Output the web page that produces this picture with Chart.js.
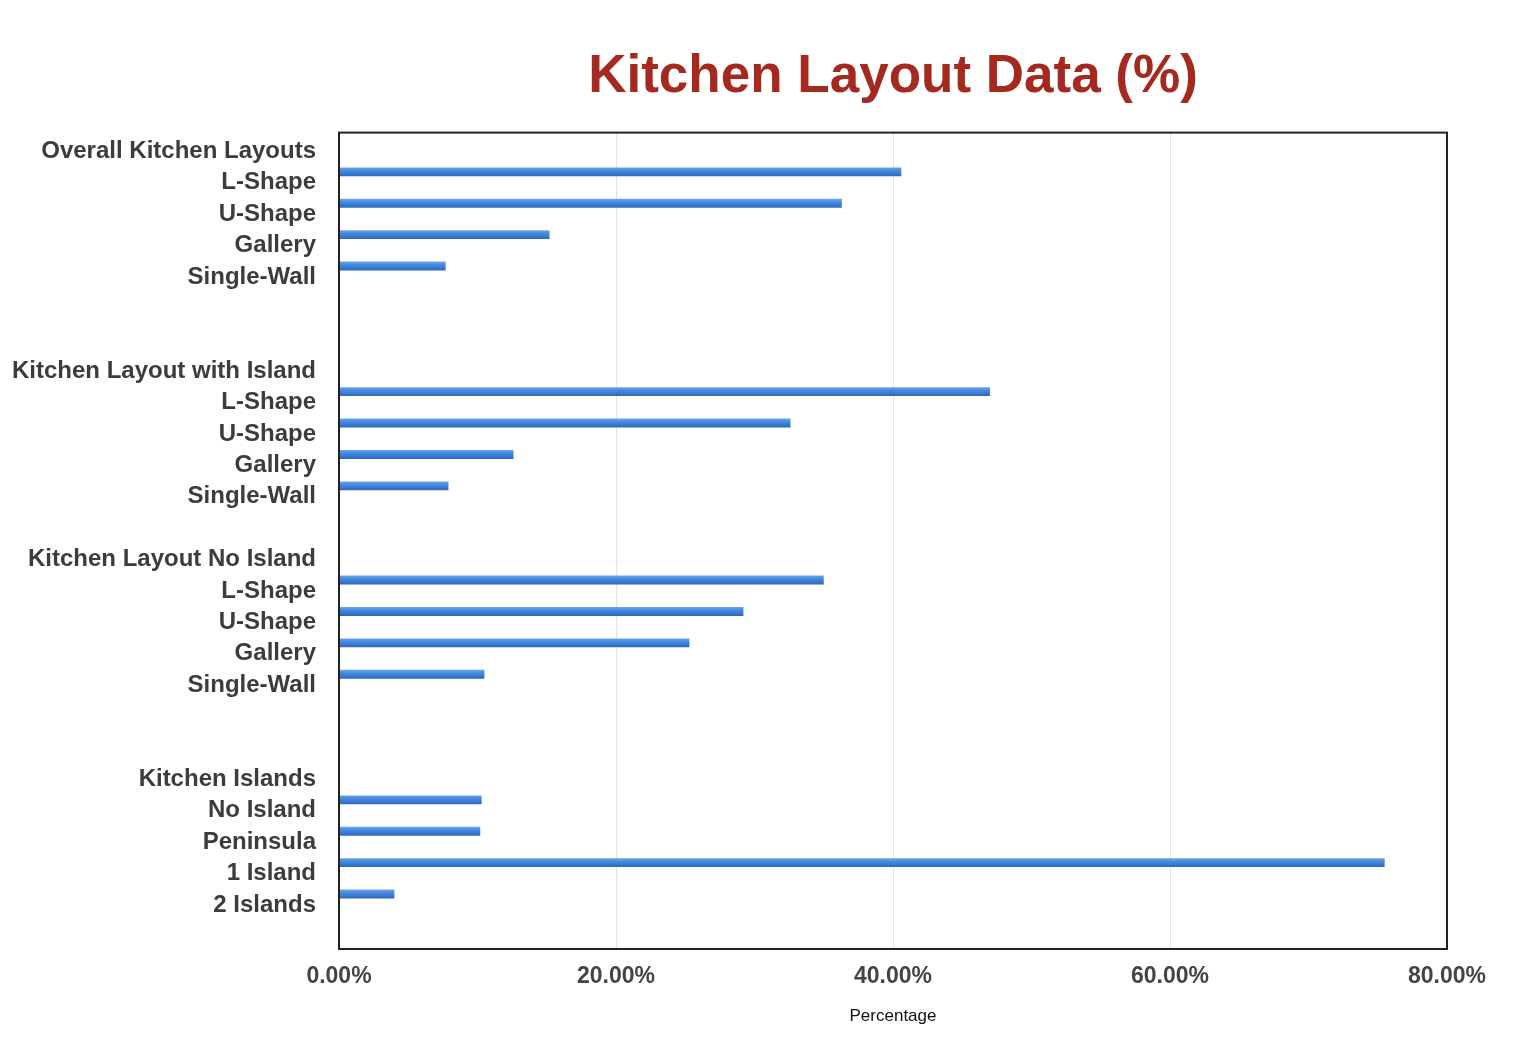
<!DOCTYPE html>
<html>
<head>
<meta charset="utf-8">
<title>Kitchen Layout Data (%)</title>
<script src="https://cdn.jsdelivr.net/npm/chart.js@4/dist/chart.umd.min.js"></script>
<style>
html,body{margin:0;padding:0;background:#fff;}
#wrap{width:1536px;height:1059px;}
</style>
</head>
<body>
<div id="wrap"><canvas id="chart"></canvas></div>
<script>

// categories top to bottom (blank slots are the gaps between groups)
const categories=[
"Overall Kitchen Layouts","L-Shape","U-Shape","Gallery","Single-Wall","","",
"Kitchen Layout with Island","L-Shape","U-Shape","Gallery","Single-Wall","",
"Kitchen Layout No Island","L-Shape","U-Shape","Gallery","Single-Wall","","",
"Kitchen Islands","No Island","Peninsula","1 Island","2 Islands",""
];

// percentages, null where a row has no bar
const percentages=[
null,40.6,36.3,15.2,7.7,null,null,
null,47.0,32.6,12.6,7.9,null,
null,35.0,29.2,25.3,10.5,null,null,
null,10.3,10.2,75.5,4.0,null
];

// second (empty) series, the way the original sheet had it
const emptySeries=categories.map(()=>null);

const xTicks=[0,20,40,60,80];

const CAT_PCT=1.0;
const BAR_PCT=0.57;

function barGradient(context){
const chart=context.chart;
const y=chart.scales.y;
if(!y||context.type!=="data")return "#3b7fd9";
const slot=y.height/categories.length;
const center=y.getPixelForValue(context.dataIndex)-slot*CAT_PCT/4;
const half=slot*CAT_PCT/2*BAR_PCT/2;
if(!isFinite(center)||!isFinite(half)||half<=0)return "#3b7fd9";
const g=chart.ctx.createLinearGradient(0,center-half,0,center+half);
g.addColorStop(0,"#6aa6ee");
g.addColorStop(0.35,"#468be0");
g.addColorStop(1,"#2d68bd");
return g;
}

const frame={
id:"frame",
afterDraw(chart){
const a=chart.chartArea;
const c=chart.ctx;
c.save();
c.strokeStyle="#222";
c.lineWidth=2;
c.strokeRect(a.left,a.top,a.right-a.left,a.bottom-a.top);
c.restore();
}
};

new Chart(document.getElementById("chart"),{
type:"bar",
data:{
labels:categories,
datasets:[{
label:"Percentage",
data:percentages,
backgroundColor:barGradient,
borderWidth:0,
categoryPercentage:CAT_PCT,
barPercentage:BAR_PCT
},{
label:"",
data:emptySeries,
categoryPercentage:CAT_PCT,
barPercentage:BAR_PCT
}]
},
options:{
indexAxis:"y",
responsive:true,
maintainAspectRatio:false,
animation:false,
layout:{padding:{left:12,right:89,top:0,bottom:28}},
plugins:{
legend:{display:false},
tooltip:{enabled:false},
title:{
display:true,
text:"Kitchen Layout Data (%)",
color:"#a5291f",
fullSize:false,
font:{family:"'Liberation Sans', Arial, sans-serif",size:53,weight:"bold"},
padding:{top:46,bottom:23}
}
},
scales:{
x:{
min:0,
max:80,
afterBuildTicks(axis){
axis.ticks=xTicks.map(v=>({value:v}));
},
grid:{color:"#e2e2e2",drawTicks:false},
border:{display:false},
ticks:{
padding:14,
color:"#444",
font:{family:"'Liberation Sans', Arial, sans-serif",size:23,weight:"bold"},
callback:v=>v.toFixed(2)+"%"
},
title:{
display:true,
text:"Percentage",
color:"#111",
font:{family:"'Liberation Sans', Arial, sans-serif",size:17},
padding:{top:2,bottom:4}
}
},
y:{
grid:{display:false,drawTicks:false},
border:{display:false},
ticks:{
autoSkip:false,
padding:23,
labelOffset:3,
color:"#3c3c3c",
font:{family:"'Liberation Sans', Arial, sans-serif",size:24,weight:"bold"}
},
afterFit(axis){
axis.width=327;
}
}
}
},
plugins:[frame]
});

</script>
</body>
</html>
